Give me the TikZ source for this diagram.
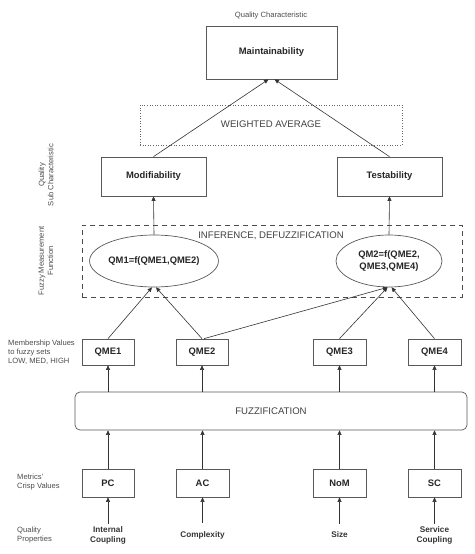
\documentclass[tikz,border=0pt]{standalone}
\usepackage{fontspec}
\setmainfont{Liberation Sans}
\usetikzlibrary{arrows.meta,shapes.geometric}
\begin{document}
\begin{tikzpicture}[x=1pt,y=-1pt,
  box/.style={draw=black!65, line width=0.7pt, fill=white, inner sep=0pt,
    font=\fontsize{9.4}{11.5}\selectfont\bfseries, text=black!85},
  ell/.style={box, ellipse, align=center},
  lbl/.style={font=\fontsize{7.6}{9.2}\selectfont, text=black!70, inner sep=0pt},
  big/.style={font=\fontsize{9.6}{11.5}\selectfont, text=black!75, inner sep=0pt},
  prop/.style={font=\fontsize{8.2}{10}\selectfont\bfseries, text=black!80, inner sep=0pt, align=center},
  arr/.style={draw=black!80, line width=0.6pt, -{Triangle[length=4.5pt,width=4pt]}}
]
\useasboundingbox (0,0) rectangle (474,554);

% top
\node[lbl] (qctitle) at (271,16) {Quality Characteristic};
\node[box, minimum width=131pt, minimum height=53pt] (maint) at (271.5,52.5) {Maintainability};
\node[draw=black!60, line width=0.6pt, dotted, minimum width=262pt, minimum height=40pt, inner sep=0pt] (wavg) at (271,125) {};
\node[big] (wavgtxt) at (271,124) {WEIGHTED AVERAGE};

% sub characteristics
\node[box, minimum width=105pt, minimum height=39pt] (modif) at (153.5,176.5) {Modifiability};
\node[box, minimum width=105pt, minimum height=39pt] (test) at (389.5,176.5) {Testability};
\node[lbl, rotate=90, align=center] (qsc) at (46,175) {Quality\\Sub Characteristic};

% fuzzy measurement function
\node[draw=black!70, line width=0.7pt, dash pattern=on 5pt off 4pt, minimum width=380pt, minimum height=72pt, inner sep=0pt] (fmbox) at (272,261) {};
\node[big] (inftxt) at (271,236) {INFERENCE, DEFUZZIFICATION};
\node[ell, minimum width=105pt, minimum height=52pt] (qm1) at (154,261) {QM1=f(QME1,QME2)};
\node[ell, minimum width=106pt, minimum height=52pt] (qm2) at (389,261) {QM2=f(QME2,\\QME3,QME4)};
\node[lbl, rotate=90, align=center] (fmf) at (46,261) {Fuzzy Measurement\\Function};

% QME
\node[box, minimum width=52pt, minimum height=26pt] (qme1) at (108,352) {QME1};
\node[box, minimum width=52pt, minimum height=26pt] (qme2) at (202,352) {QME2};
\node[box, minimum width=53pt, minimum height=26pt] (qme3) at (339.5,352) {QME3};
\node[box, minimum width=53pt, minimum height=26pt] (qme4) at (434.5,352) {QME4};
\node[lbl, align=left, anchor=west] (mv) at (8,352) {Membership Values\\to fuzzy sets\\LOW, MED, HIGH};

% fuzzification
\node[draw=black!65, line width=0.7pt, rounded corners=5pt, minimum width=392pt, minimum height=38pt, inner sep=0pt, big] (fuzz) at (271,411) {FUZZIFICATION};

% metrics
\node[box, minimum width=52pt, minimum height=28pt] (pc) at (108,483) {PC};
\node[box, minimum width=53pt, minimum height=28pt] (ac) at (202.5,483) {AC};
\node[box, minimum width=53pt, minimum height=28pt] (nom) at (339.5,483) {NoM};
\node[box, minimum width=53pt, minimum height=28pt] (sc) at (434.5,483) {SC};
\node[lbl, align=left, anchor=west] (mcv) at (17,482) {Metrics'\\Crisp Values};

% properties
\node[prop] (icp) at (108,535) {Internal\\Coupling};
\node[prop] (cpx) at (202.5,535) {Complexity};
\node[prop] (size) at (339.5,535) {Size};
\node[prop] (scp) at (434.5,535) {Service\\Coupling};
\node[lbl, align=left, anchor=west] (qp) at (17,535) {Quality\\Properties};

% arrows top
\draw[arr] (modif.north) -- ([xshift=-3pt]maint.south);
\draw[arr] (test.north) -- ([xshift=3pt]maint.south);
\draw[arr] (qm1.north) -- (modif.south);
\draw[arr] (qm2.north) -- (test.south);

% QME -> QM
\draw[arr] (qme1.north) -- ([xshift=-2pt]qm1.south);
\draw[arr] (qme2.north) -- ([xshift=2pt]qm1.south);
\draw[arr] ([xshift=2pt]qme2.north) -- ([xshift=-1.5pt]qm2.south);
\draw[arr] (qme3.north) -- ([xshift=-1.5pt]qm2.south);
\draw[arr] (qme4.north) -- ([xshift=2.5pt]qm2.south);

% fuzz -> QME
\foreach \n in {qme1,qme2,qme3,qme4}{
  \draw[arr] (fuzz.north -| \n) -- (\n.south);
}
% metrics -> fuzz
\foreach \n in {pc,ac,nom,sc}{
  \draw[arr] (\n.north) -- (fuzz.south -| \n);
}
% properties -> metrics
\draw[arr] ([yshift=2pt]icp.north) -- (pc.south);
\draw[arr] ([yshift=8pt]cpx.north) -- (ac.south);
\draw[arr] ([yshift=8pt]size.north) -- (nom.south);
\draw[arr] ([yshift=2pt]scp.north) -- (sc.south);
\end{tikzpicture}
\end{document}
